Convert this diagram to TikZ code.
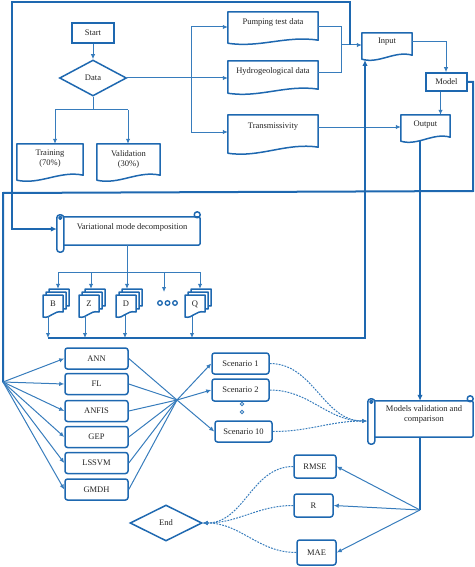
\documentclass[tikz,border=0pt]{standalone}
\usepackage{fontspec}
\setmainfont{Liberation Serif}
\usetikzlibrary{shapes.geometric,arrows.meta,calc}
\definecolor{blu}{RGB}{30,104,176}
\definecolor{lblu}{RGB}{55,124,188}
\definecolor{txt}{RGB}{35,35,35}

\newcommand\docout[3]{%
  \draw[shp] (#1.north west) -- (#1.north east) -- ($(#1.south east)+(0,#2)$)
    .. controls ($(#1.south east)!0.35!(#1.south west)+(0,#2-5)$) and ($(#1.south east)!0.65!(#1.south west)+(0,#3+5)$) .. ($(#1.south west)+(0,#3)$) -- cycle;}
\newcommand\scrollout[2]{%
  \draw[shp, rounded corners=2pt] (#1.north west) -- (#1.north east) -- ($(#1.south east)+(0,#2)$) -- ($(#1.south west)+(0,#2)$);
  \draw[shp, rounded corners=3pt] ($(#1.north west)+(-7,-2)$) rectangle ($(#1.south west)+(0,#2+7)$);
  \draw[shp] ($(#1.north west)+(-3.5,1)$) circle (1.5);
  \draw[shp] ($(#1.north east)+(-3,-2)$) circle (3);}
\newcommand\mdoc[4]{%
  \foreach \k in {2,1,0} {
    \draw[shp, fill=white] (#2-10+3*\k, #3-9-3*\k) -- (#2+10+3*\k, #3-9-3*\k) -- (#2+10+3*\k, #3+8-3*\k)
      .. controls (#2+3*\k, #3+6-3*\k) and (#2-2+3*\k, #3+15-3*\k) .. (#2-10+3*\k, #3+13-3*\k) -- cycle;
  }
  \node[lbl, minimum width=20, minimum height=18] (#1) at (#2,#3) {#4};}

\begin{document}
\begin{tikzpicture}[x=1pt,y=-1pt,
  font=\fontsize{8.5}{10}\selectfont,
  lbl/.style={text=txt, inner sep=0pt, align=center},
  shp/.style={draw=blu, line width=1.5pt, line join=round},
  recbox/.style={lbl, draw=blu, line width=1.5pt, fill=white},
  rbox/.style={recbox, rounded corners=2.5pt},
  dia/.style={lbl, diamond, draw=blu, line width=1.5pt, fill=white},
  thk/.style={draw=blu, line width=2pt},
  thn/.style={draw=lblu, line width=1pt},
  arr/.style={-{Latex[length=5pt,width=4.5pt]}},
  tarr/.style={-{Latex[length=6pt,width=5.5pt]}},
  dsh/.style={draw=lblu, line width=1pt, dash pattern=on 1.8pt off 1.2pt},
]
\useasboundingbox (0,0) rectangle (474,567);

% ---------- top part nodes
\node[recbox, minimum width=42, minimum height=20] (start) at (93,33) {Start};
\node[dia, minimum width=67, minimum height=36, inner sep=0pt] (data) at (93,78) {Data};
\node[lbl, minimum width=66, minimum height=30] (train) at (50,159) {Training\\(70\%)};
\node[lbl, minimum width=63, minimum height=30] (valid) at (128.5,159) {Validation\\(30\%)};
\node[lbl, minimum width=90, minimum height=20] (pump) at (273,22) {Pumping test data};
\node[lbl, minimum width=90, minimum height=20] (hyd) at (273,71) {Hydrogeological data};
\node[lbl, minimum width=90, minimum height=24] (trans) at (273,127) {Transmissivity};
\node[lbl, minimum width=50, minimum height=18] (inp) at (387,42) {Input};
\node[recbox, minimum width=41, minimum height=18] (model) at (446.5,82) {Model};
\node[lbl, minimum width=49, minimum height=20] (outp) at (425.5,125) {Output};
\docout{train}{1}{6}
\docout{valid}{1}{6}
\docout{pump}{8}{11}
\docout{hyd}{8}{12}
\docout{trans}{8}{14}
\docout{inp}{4}{8}
\docout{outp}{2}{6}

% ---------- VMD and documents
\node[lbl, minimum width=136, minimum height=20] (vmd) at (132,227) {Variational mode decomposition};
\scrollout{vmd}{8}
\mdoc{docB}{53}{304}{B}
\mdoc{docZ}{89}{304}{Z}
\mdoc{docD}{126}{304}{D}
\mdoc{docQ}{195}{304}{Q}
\coordinate (dots) at (167.5,303);
\foreach \xx in {160,167.5,175} \draw[blu, line width=1.3pt] (\xx,303) circle (2.3);

% ---------- models
\foreach \nm/\yy/\tx in {ann/358.5/ANN, fl/384/FL, anfis/411/ANFIS, gep/437/GEP, lssvm/463/LSSVM, gmdh/489.5/GMDH}
  \node[rbox, minimum width=63, minimum height=21] (\nm) at (96.5,\yy) {\tx};
\node[rbox, minimum width=57, minimum height=21] (s1) at (240.5,363.5) {Scenario 1};
\node[rbox, minimum width=57, minimum height=22] (s2) at (240.5,390) {Scenario 2};
\node[rbox, minimum width=57, minimum height=21] (s10) at (243.5,431.5) {Scenario 10};
\draw[lblu, line width=0.8pt] (242,404) circle (1.8) (242,412) circle (1.8);

\node[lbl, minimum width=98, minimum height=26] (mv) at (424,414) {Models validation and\\comparison};
\scrollout{mv}{10}

\node[rbox, minimum width=42, minimum height=23] (rmse) at (315,466.5) {RMSE};
\node[rbox, minimum width=39, minimum height=23] (rr) at (313.5,505.5) {R};
\node[rbox, minimum width=39, minimum height=25] (mae) at (316.5,552.5) {MAE};
\node[dia, minimum width=72, minimum height=36, inner sep=0pt] (endd) at (166,523) {End};

% ---------- coordinates
\coordinate (dj) at (93,110);
\coordinate (djl) at (55,110);
\coordinate (djr) at (128,110);
\coordinate (dv1) at (191,27);
\coordinate (dv2) at (191,132);
\coordinate (m1) at (341,27);
\coordinate (m2) at (341,73);
\coordinate (mj) at (341,45);
\coordinate (tfj) at (350,45);
\coordinate (tfr) at (350,2);
\coordinate (tfl) at (12,2);
\coordinate (vmdin) at ($(vmd.west)+(-7,2)$);
\coordinate (ij) at (446,42);
\coordinate (mo) at ($(model.south)+(-6,0)$);
\coordinate (mr1) at (473,82);
\coordinate (mr2) at (473,191);
\coordinate (fl1) at (3,193);
\coordinate (fan) at (3,382);
\coordinate (vb) at (127,245);
\coordinate (vj) at (127,272);
\coordinate (t1) at (58,272);
\coordinate (t2) at (91,272);
\coordinate (t4) at (164,272);
\coordinate (t5) at (200,272);
\coordinate (bl) at (48,338);
\coordinate (br) at (365,338);
\coordinate (inb) at (365,60);
\coordinate (ob) at (420,141);
\coordinate (mvb) at (420,437);
\coordinate (ev) at (420,510);
\coordinate (cv) at (177,400);
\coordinate (mvin) at (367,421);
\coordinate (bB) at ($(docB.south)+(-5,3)$);
\coordinate (bZ) at ($(docZ.south)+(-4,3)$);
\coordinate (bD) at ($(docD.south)+(-1,2)$);
\coordinate (bQ) at ($(docQ.south)+(-3,3)$);

% ---------- thin connectors (top)
\draw[thn,arr] (start) -- (data);
\draw[thn] (data.south) -- (dj);
\draw[thn] (djl) -- (djr);
\draw[thn,arr] (djl) -- (djl |- train.north);
\draw[thn,arr] (djr) -- (djr |- valid.north);
\draw[thn,arr] (data.east) -- (data.east -| hyd.west);
\draw[thn] (dv1) -- (dv2);
\draw[thn,arr] (dv1) -- (dv1 -| pump.west);
\draw[thn,arr] (dv2) -- (dv2 -| trans.west);
\draw[thn] (dv1 -| pump.east) -- (m1) -- (m2) -- (m2 -| hyd.east);
\draw[thn,arr] (mj) -- (mj -| inp.west);
\draw[thn,arr] (inp.east) -- (ij) -- (ij |- model.north);
\draw[thn,arr] (mo) -- (mo |- outp.north);
\draw[thn,arr] (trans.east) -- (trans.east -| outp.west);

% ---------- thick frames
\draw[thk,tarr] (tfj) -- (tfr) -- (tfl) -- (tfl |- vmdin) -- (vmdin);
\draw[thk] (model.east) -- (mr1) -- (mr2) -- (fl1) -- (fan);
\draw[thk,tarr] (bl) -- (br) -- (inb);
\draw[thk,tarr] (ob) -- (ob |- mv.north);
\draw[thk] (mvb) -- (ev);

% ---------- VMD branches
\draw[thn] (vb) -- (vj);
\draw[thn] (t1) -- (t5);
\draw[thn,arr] (t1) -- ($(t1 |- docB.north)+(0,-6)$);
\draw[thn,arr] (t2) -- ($(t2 |- docZ.north)+(0,-6)$);
\draw[thn,arr] (vj) -- ($(vj |- docD.north)+(0,-6)$);
\draw[thn,arr] (t4) -- ($(t4 |- dots)+(0,-11)$);
\draw[thn,arr] (t5) -- ($(t5 |- docQ.north)+(0,-6)$);
\draw[thn,arr] (bB) -- (bB |- bl);
\draw[thn,arr] (bZ) -- (bZ |- bl);
\draw[thn,arr] (bD) -- (bD |- bl);
\draw[thn,arr] (bQ) -- (bQ |- bl);

% ---------- model fan
\foreach \nm in {ann,fl,anfis,gep,lssvm,gmdh} {
  \draw[thn,arr] (fan) -- (\nm.west);
  \draw[thn] (\nm.east) -- (cv);
}
\draw[thn,arr] (cv) -- (s1.west);
\draw[thn,arr] (cv) -- (s2.west);
\draw[thn,arr] (cv) -- (s10.west);

\draw[dsh,arr] (s1.east) to[out=0,in=180] (mvin);
\draw[dsh,arr] (s2.east) to[out=0,in=180] (mvin);
\draw[dsh,arr] (s10.east) to[out=0,in=180] (mvin);

% ---------- evaluation
\draw[thn,arr] (ev) -- (rmse.east);
\draw[thn,arr] (ev) -- (rr.east);
\draw[thn,arr] (ev) -- (mae.east);
\draw[dsh,arr] (rmse.west) to[out=180,in=0] (endd.east);
\draw[dsh,arr] (rr.west) to[out=180,in=0] (endd.east);
\draw[dsh,arr] (mae.west) to[out=180,in=0] (endd.east);
\end{tikzpicture}
\end{document}
